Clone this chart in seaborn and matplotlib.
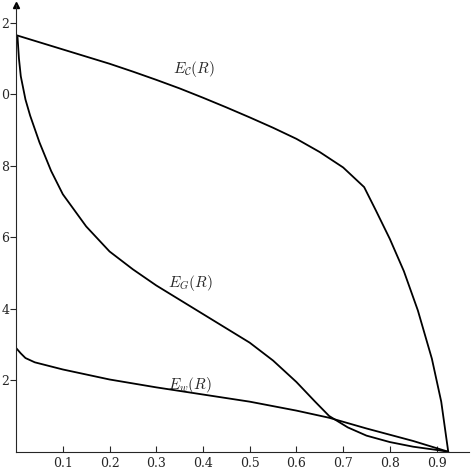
import matplotlib
matplotlib.use("Agg")
import matplotlib.pyplot as plt
import seaborn as sns

sns.set_style("ticks")
plt.rcParams['font.family'] = ['DejaVu Serif']
plt.rcParams['mathtext.fontset'] = 'cm'

ec_x = [0.0, 0.05, 0.1, 0.15, 0.2, 0.25, 0.3, 0.35, 0.4, 0.45, 0.5, 0.55, 0.6, 0.65, 0.7, 0.745, 0.77, 0.8, 0.83, 0.86, 0.89, 0.91, 0.925]
ec_y = [11.65, 11.45, 11.25, 11.05, 10.85, 10.63, 10.4, 10.16, 9.9, 9.63, 9.35, 9.06, 8.75, 8.38, 7.95, 7.4, 6.75, 5.95, 5.05, 3.95, 2.6, 1.4, 0.0]
eg_x = [0.003, 0.006, 0.01, 0.02, 0.03, 0.05, 0.075, 0.1, 0.15, 0.2, 0.25, 0.3, 0.35, 0.4, 0.45, 0.5, 0.55, 0.6, 0.64, 0.67, 0.71, 0.75, 0.8, 0.85, 0.9, 0.925]
eg_y = [11.6, 11.0, 10.5, 9.85, 9.4, 8.65, 7.85, 7.2, 6.3, 5.6, 5.1, 4.65, 4.25, 3.85, 3.45, 3.05, 2.55, 1.95, 1.4, 1.0, 0.68, 0.45, 0.27, 0.14, 0.05, 0.0]
ew_x = [0.0, 0.01, 0.02, 0.04, 0.07, 0.1, 0.15, 0.2, 0.3, 0.4, 0.5, 0.6, 0.67, 0.75, 0.85, 0.925]
ew_y = [2.9, 2.75, 2.62, 2.5, 2.4, 2.3, 2.16, 2.02, 1.8, 1.6, 1.4, 1.15, 0.95, 0.65, 0.3, 0.0]
yticks = [2, 4, 6, 8, 10, 12]
ylabels = ["2", "4", "6", "8", "0", "2"]
xticks = [0.1, 0.2, 0.3, 0.4, 0.5, 0.6, 0.7, 0.8, 0.9]

fig, ax = plt.subplots(figsize=(4.74, 4.74), dpi=100)
fig.subplots_adjust(left=0.034, right=0.99, bottom=0.047, top=0.99)
for xs, ys in [(ec_x, ec_y), (eg_x, eg_y), (ew_x, ew_y)]:
    sns.lineplot(x=xs, y=ys, ax=ax, color="black", lw=1.3, sort=False, estimator=None)
ax.set_xlim(0, 0.97)
ax.set_ylim(0, 12.5)
ax.set_yticks(yticks)
ax.set_yticklabels(ylabels)
ax.set_xticks(xticks)
ax.set_xticklabels([str(t) for t in xticks])
ax.tick_params(axis='x', direction='in', length=4, labelsize=9)
ax.tick_params(axis='y', direction='out', length=4, labelsize=9, pad=1)
sns.despine(ax=ax)
ax.plot(0, 1, "^k", transform=ax.transAxes, clip_on=False, ms=4)
ax.text(0.335, 10.6, r"$E_{\mathcal{C}}(R)$", fontsize=11)
ax.text(0.325, 4.6, r"$E_G(R)$", fontsize=11)
ax.text(0.325, 1.75, r"$E_w(R)$", fontsize=11)
fig.savefig("out.png", dpi=100)
